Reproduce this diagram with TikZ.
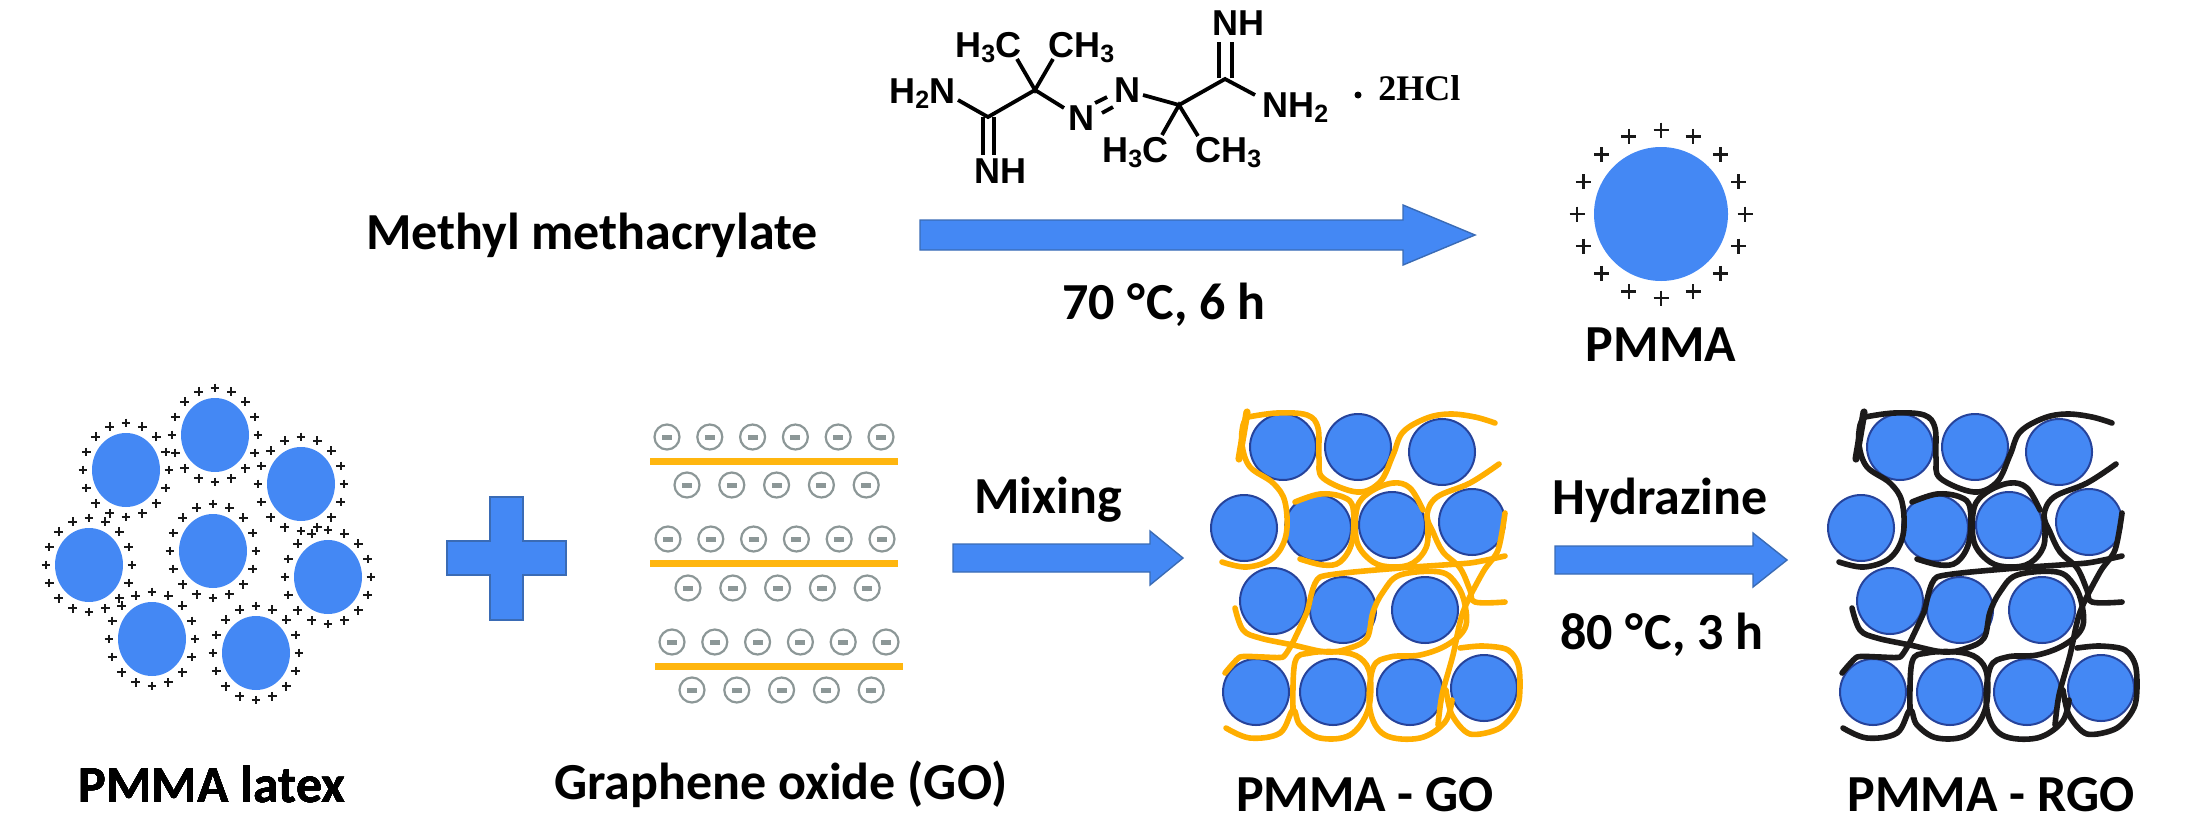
\documentclass[tikz,border=0pt]{standalone}
\usepackage{fontspec}
\setmainfont{Carlito}
\newfontfamily\molfont{Liberation Sans}
\newfontfamily\hclfont{Liberation Serif}
\usetikzlibrary{calc}
\definecolor{pmmablue}{HTML}{4488F4}
\definecolor{ringblue}{HTML}{26439B}
\definecolor{edgeblue}{HTML}{3A6BB5}
\definecolor{goyellow}{HTML}{FFB60F}
\definecolor{fibreorange}{HTML}{FFAE00}
\definecolor{fibreblack}{HTML}{1C1A1A}
\definecolor{chargegray}{HTML}{8C9797}
\tikzset{% looks that repeat
  label/.style={font=\bfseries\fontsize{26}{26}\selectfont, inner sep=0},
  chem/.style={font=\molfont\bfseries\fontsize{18}{18}\selectfont, inner sep=0},
  bond/.style={line width=1.9pt},
  bigarrow/.style={fill=pmmablue, draw=edgeblue, line width=0.7pt},
  plusline/.style={line width=#1, black!90},
  grafline/.style={goyellow, line width=3.4pt},
  charge/.style={draw=chargegray, line width=1.1pt, fill=white, circle, minimum size=12.5pt, inner sep=0},
  bead/.style={fill=pmmablue, draw=ringblue, line width=1pt},
  fibre/.style={line width=2.8pt, line cap=round, line join=round}
}
\newcommand{\chemsub}[1]{\raisebox{-0.28ex}{\fontsize{12.5}{12.5}\selectfont #1}}
% ball with a ring of plus signs: x, y, ball radius x, ball radius y, ring x, ring y, arm, line
\newcommand{\plusball}[8]{
  \fill[pmmablue] (#1,#2) ellipse [x radius=#3, y radius=#4];
  \foreach \a in {0,22.5,...,337.5} {
    \draw[plusline=#8] ({#1+#5*cos(\a)-#7},{#2-#6*sin(\a)}) -- ++({2*#7},0);
    \draw[plusline=#8] ({#1+#5*cos(\a)},{#2-#6*sin(\a)-#7}) -- ++(0,{2*#7});
  }
}
% one block arrow: x start, y, x head, x tip, half shaft, half head
\newcommand{\blockarrow}[6]{
  \draw[bigarrow] (#1,{#2-#5}) -- (#3,{#2-#5}) -- (#3,{#2-#6}) -- (#4,#2)
    -- (#3,{#2+#6}) -- (#3,{#2+#5}) -- (#1,{#2+#5}) -- cycle;
}
% beads and fibres of the composite, in the colour of the fibre
\newcommand{\composite}[1]{
  \foreach \x/\y in {1283/447,1358/447,1442/452,1244/528,1318/528,1392/525,1472/522,
                     1273/601,1343/610,1425/610,1256/692,1333/692,1410/692,1484/688}
    \draw[bead] (\x,\y) circle [radius=33];
  \begin{scope}[fibre, draw=#1]
  \draw[line width=3.6pt] (1247,412) -- (1239,459);
  \draw plot[smooth, tension=0.6] coordinates {(1248,417) (1277,413) (1307,415) (1318,428) (1319,458)
    (1323,478) (1357,492) (1380,482) (1393,455) (1403,432) (1427,418) (1450,414) (1475,417) (1495,423)};
  \draw plot[smooth, tension=0.6] coordinates {(1248,417) (1243,425) (1242,445) (1250,467) (1273,483)
    (1285,502) (1286,535) (1273,558) (1247,567) (1222,562)};
  \draw plot[smooth, tension=0.6] coordinates {(1295,502) (1320,494) (1343,497) (1353,508) (1352,542)
    (1340,562) (1323,565) (1300,559)};
  \draw plot[smooth, tension=0.6] coordinates {(1423,510) (1410,488) (1393,483) (1370,492) (1357,508)
    (1357,542) (1373,562) (1393,567) (1413,563) (1427,545) (1427,515)};
  \draw plot[smooth, tension=0.6] coordinates {(1499,464) (1470,483) (1437,497) (1427,515) (1433,532)
    (1443,552) (1460,568) (1470,590) (1475,602) (1505,602)};
  \draw plot[smooth, tension=0.3] coordinates {(1505,556) (1470,563) (1400,568) (1320,577) (1307,612)
    (1293,642) (1283,657) (1263,657) (1240,657) (1225,673)};
  \draw plot[smooth, tension=0.6] coordinates {(1235,608) (1243,630) (1260,638) (1293,645) (1327,652)
    (1350,648) (1367,638) (1373,612) (1383,592) (1400,575) (1440,572) (1457,585) (1465,605) (1465,628)
    (1447,645) (1420,655) (1390,657) (1373,668) (1370,710) (1385,735) (1420,738) (1445,722) (1452,700)};
  \draw plot[smooth, tension=0.6] coordinates {(1293,710) (1295,662) (1310,653) (1340,652) (1360,658)
    (1370,675) (1368,710) (1350,735) (1320,738) (1300,725) (1293,710) (1280,733) (1250,738) (1226,728)};
  \draw plot[smooth, tension=0.5] coordinates {(1505,513) (1498,550) (1483,572) (1463,612) (1453,655)
    (1442,695) (1438,725)};
  \draw plot[smooth, tension=0.5] coordinates {(1460,648) (1483,646) (1508,650) (1519,668) (1518,705)
    (1500,728) (1470,734) (1452,715) (1446,690)};
  \end{scope}
}

\begin{document}
\begin{tikzpicture}[x=0.5pt, y=-0.5pt]
\useasboundingbox (0,0) rectangle (2204,825);

% carbons of the initiator and free bond ends
\coordinate (a) at (988,117);
\coordinate (b) at (1035,90);
\coordinate (c) at (1179,105);
\coordinate (d) at (1225,79);
\coordinate (aN) at (958,100);
\coordinate (bL) at (1017,59);
\coordinate (bR) at (1053,59);
\coordinate (bN) at (1064,108);
\coordinate (cN) at (1143,95);
\coordinate (cL) at (1162,135);
\coordinate (cR) at (1198,136);
\coordinate (dN) at (1255,95);
\coordinate (aA) at (983,117);
\coordinate (aB) at (983,155);
\coordinate (aC) at (994,117);
\coordinate (aD) at (994,155);
\coordinate (dA) at (1219,78);
\coordinate (dB) at (1219,42);
\coordinate (dC) at (1232,78);
\coordinate (dD) at (1232,42);
\coordinate (azoA) at (1095,103);
\coordinate (azoB) at (1107,97);
\coordinate (azoC) at (1102,113);
\coordinate (azoD) at (1113,107);

% draw the initiator
\node [chem, anchor=base west] (amineL) at (889,103) {H\chemsub{2}N};
\node [chem, anchor=base west] (methA) at (955,57) {H\chemsub{3}C};
\node [chem, anchor=base west] (methB) at (1048,57) {CH\chemsub{3}};
\node [chem] (imineL) at (1000,171) {NH};
\node [chem] (azoL) at (1081,118) {N};
\node [chem] (azoR) at (1127,90) {N};
\node [chem] (imineR) at (1238,23) {NH};
\node [chem, anchor=base west] (amineR) at (1262,117) {NH\chemsub{2}};
\node [chem, anchor=base west] (methC) at (1102,162) {H\chemsub{3}C};
\node [chem, anchor=base west] (methD) at (1195,162) {CH\chemsub{3}};
\fill (1358,95) circle [radius=3.5];
\node [anchor=base west, inner sep=0, font=\hclfont\bfseries\fontsize{18}{18}\selectfont] (salt) at (1378,100) {2HCl};
\draw [bond] (aN) -- (a) -- (b) -- (bN);
\draw [bond] (bL) -- (b) -- (bR);
\draw [bond] (cN) -- (c) -- (d) -- (dN);
\draw [bond] (cL) -- (c) -- (cR);
\draw [bond] (aA) -- (aB);
\draw [bond] (aC) -- (aD);
\draw [bond] (dA) -- (dB);
\draw [bond] (dC) -- (dD);
\draw [bond] (azoA) -- (azoB);
\draw [bond] (azoC) -- (azoD);

% draw first row
\node [label] (monomer) at (592,235) {Methyl methacrylate};
\blockarrow{920}{235}{1403}{1475}{15}{30}
\node [label] (temperA) at (1164,305) {70 °\kern1pt C, 6 h};
\plusball{1661}{214}{67}{67}{84}{84}{7.5}{1.3pt}
\node [label] (pmma) at (1661,345) {PMMA};

% draw latex
\foreach \x/\y in {126/470,215/435,301/484,213/551,89/565,328/577,152/639,256/653}
  \plusball{\x}{\y}{34}{37}{43}{47}{4.4}{1pt}
\node [label] (latex) at (212,784) {PMMA latex};

% draw the plus
\fill [pmmablue, draw=edgeblue, line width=0.7pt] (490,497) -- (523,497) -- (523,541) -- (566,541) -- (566,575)
  -- (523,575) -- (523,620) -- (490,620) -- (490,575) -- (447,575) -- (447,541) -- (490,541) -- cycle;

% draw graphene oxide
\foreach \y/\xa/\xb in {461/650/898,563/650/898,666/655/903}
  \fill [goyellow] (\xa,\y-3.5) rectangle (\xb,\y+3.5);
\foreach \y/\s in {437/667,539/668,642/672}
  \foreach \i in {0,...,5} {
    \node [charge] (neg\y\i) at ({\s+42.8*\i},\y) {};
    \fill [chargegray] ({\s+42.8*\i-5},\y-2.5) rectangle ({\s+42.8*\i+5},\y+2.5);
  }
\foreach \y/\s in {485/687,588/688,690/692}
  \foreach \i in {0,...,4} {
    \node [charge] (neg\y\i) at ({\s+44.8*\i},\y) {};
    \fill [chargegray] ({\s+44.8*\i-5},\y-2.5) rectangle ({\s+44.8*\i+5},\y+2.5);
  }
\node [label] (go) at (781,784) {Graphene oxide (GO)};

% draw mixing
\blockarrow{953}{558}{1150}{1183}{14}{27}
\node [label] (mix) at (1048,500) {Mixing};
\composite{fibreorange}
\node [label] (pmmago) at (1365,795) {PMMA - GO};

% draw reduction
\blockarrow{1555}{560}{1753}{1787}{14}{27}
\node [label] (hyd) at (1660,500) {Hydrazine};
\node [label] (temperB) at (1662,635) {80 °\kern1pt C, 3 h};
\begin{scope}[shift={(617,0)}]
\composite{fibreblack}
\end{scope}
\node [label] (pmmargo) at (1991,795) {PMMA - RGO};

\end{tikzpicture}
\end{document}
